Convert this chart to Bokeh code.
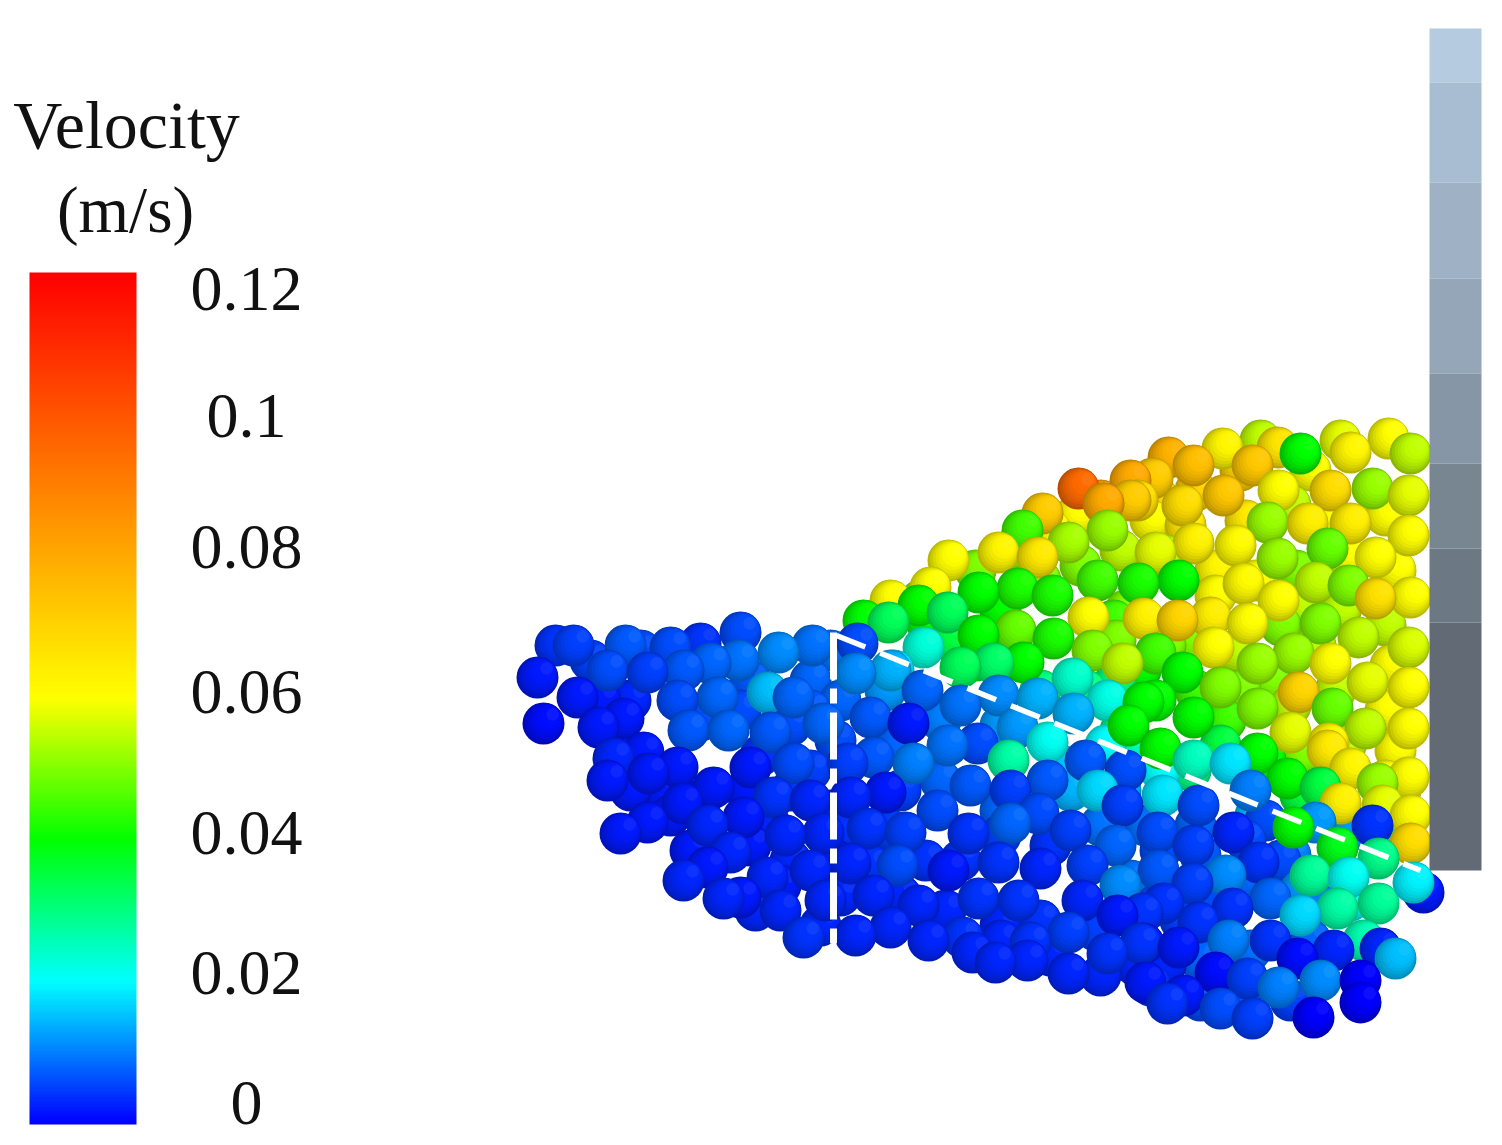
import numpy as np
from bokeh.plotting import figure
from bokeh.models import ColumnDataSource, ColorBar, LinearColorMapper, FixedTicker, Range1d
from bokeh.embed import file_html
from bokeh.resources import INLINE

# ---------- colour scale ----------
scale_values = [0.0, 0.02, 0.04, 0.06, 0.12]
scale_colors = [(0, 0, 255), (0, 255, 255), (0, 255, 0), (255, 255, 0), (255, 0, 0)]
tick_values = [0.12, 0.1, 0.08, 0.06, 0.04, 0.02, 0]
tick_labels = ["0.12", "0.1", "0.08", "0.06", "0.04", "0.02", "0"]

# ---------- particles (x, y in picture pixels, v = velocity in m/s) ----------
rear_x = [1113,1310,1240,1195,1160,1100,1075,1050,1010,975,920,1150,1185,1245,1290,1385,1330,1120,1080,1040,1000,1215,1255,1295,1345,1395,1165,1125,1215,1300,1340,1385,1115,1165,1280,1190,1235,1315,1390,1270,1335,1385,1195,1240,1115,1140,1290,1225,1345,1395,1265,1300,1385,1120,1085,1040,1010,975,925,950,1220,1190,1135,1105,1160,1300,1255,1290,1375,1400,1350,
          830,885,840,895,835,940,1000,1060,1120,1070,1000,940,890,845,900,1050,1000,960,925,870,840,900,945,1000,1040,1095,1130,1155,1180,1215,1240,1200,1160,1100,1145,1195,1245,1265,1300,1280,1320,1350,1310,1290,1200,1240,1250,1100,1135,1165,1050,1000,1200,1150,
          590,640,690,750,740,700,630,600,810,810,790,760,790,745,700,810,770,830,750,790,835,755,780,820,690,670,660,630,615]
rear_y = [620,470,470,490,500,500,515,530,550,570,600,520,525,520,505,515,520,550,565,580,610,570,580,570,555,570,555,610,595,605,610,625,640,645,625,640,650,645,665,680,690,710,690,690,680,670,705,720,745,750,760,755,780,730,690,690,650,660,620,640,745,770,745,745,770,795,815,855,830,790,830,
          650,690,700,745,740,720,725,765,790,790,810,780,830,830,790,845,835,860,860,865,895,895,910,925,920,930,880,905,920,905,880,855,850,825,825,825,840,820,890,860,905,900,940,1000,960,1000,950,975,965,965,955,940,1000,985,
          660,650,650,680,710,720,700,700,680,710,725,755,790,790,800,770,825,810,845,860,860,910,885,925,850,815,790,790,740]
rear_v = [.045,.060,.070,.070,.070,.080,.060,.060,.050,.050,.050,.060,.065,.065,.055,.060,.060,.055,.050,.050,.040,.062,.060,.050,.060,.060,.055,.050,.060,.055,.055,.055,.050,.050,.050,.050,.055,.055,.060,.050,.055,.060,.045,.050,.030,.040,.055,.045,.055,.060,.040,.050,.060,.030,.030,.030,.040,.040,.040,.035,.035,.030,.025,.020,.020,.035,.015,.010,.030,.060,.012,
          .009,.012,.008,.008,.006,.010,.012,.015,.014,.014,.008,.008,.005,.004,.005,.004,.005,.004,.004,.004,.003,.003,.003,.003,.004,.005,.009,.006,.005,.006,.008,.007,.006,.009,.009,.008,.006,.006,.012,.006,.010,.020,.008,.005,.008,.006,.009,.003,.003,.003,.003,.003,.006,.004,
          .005,.006,.007,.007,.006,.006,.003,.002,.008,.007,.006,.004,.004,.002,.002,.005,.003,.003,.002,.003,.002,.003,.002,.003,.002,.002,.002,.002,.002]

top_x = [1260,1340,1222,1168,1277,1193,1252,1350,1388,1410,1152,1278,1330,1372,1408,1182,1223,1137,1267,1307,1350,1408,1155,1193,1235,1277,1327,1375,1243,1315,1278,1348,1375,1410,1143,1177,1210,1247,1320,1293,1358,1408,1155,1213,1330,1257,1182,1220,1298,1367,1408,1155,1193,1257,1332,1365,1408,1290,1328,1300,1178,1138]
top_y = [440,440,448,457,447,465,465,452,438,453,478,490,490,488,495,505,495,500,522,523,523,535,552,543,545,558,548,557,583,582,600,585,598,597,618,620,617,623,623,653,637,647,653,647,663,663,672,687,692,682,687,700,717,708,708,728,728,732,743,453,580,583]
top_v = [.055,.058,.062,.078,.066,.075,.073,.062,.060,.055,.072,.060,.068,.052,.058,.068,.073,.068,.052,.064,.064,.060,.058,.063,.061,.052,.048,.060,.061,.055,.060,.050,.067,.060,.063,.070,.064,.060,.050,.052,.055,.057,.045,.060,.060,.052,.040,.050,.070,.058,.060,.040,.040,.050,.048,.055,.060,.058,.062,.040,.040,.042]

upper_x = [890,930,863,888,918,947,948,998,1037,978,1017,1052,1022,1042,1068,1078,1107,1103,1130,1130,1097,1088,978,1015,1053,923,960,993,1023,1092,1122,1072,1107,1143,1128,893]
upper_y = [600,587,620,622,605,612,560,552,557,592,588,595,530,513,542,488,530,503,500,480,580,617,635,630,638,647,667,663,662,650,663,678,700,702,725,670]
upper_v = [.060,.060,.040,.033,.040,.033,.060,.062,.065,.040,.042,.042,.045,.072,.053,.095,.052,.080,.072,.080,.045,.060,.040,.048,.042,.023,.033,.032,.040,.050,.055,.024,.022,.040,.040,.018]

right_x = [1162,1193,1230,1198,1250,1157,1233,1193,1258,1158,1225,1270,1192,1232,1163,1198,1142,1270,1178,1228,1297,1215,1143,1145,1247,1183,1167,1278,1320,1220,1252,1313,1360,1360,1395,1380,1333,1363,1378,1337,1300,1310,1378,1337,1293,1348,1372,1287,1340,1382,1410,1410,1408,1350,1327,1377,1257,1160,1320,1315]
right_y = [795,760,763,805,790,832,832,845,862,870,875,898,883,908,903,922,913,940,947,940,958,972,943,982,978,995,1003,987,980,1008,1018,1017,1002,980,958,948,950,940,903,908,915,875,858,847,827,877,825,778,803,805,843,815,777,768,750,783,753,748,787,822]
right_v = [.018,.025,.018,.006,.010,.006,.003,.005,.004,.007,.011,.008,.005,.004,.004,.004,.004,.004,.002,.010,.001,.001,.002,.002,.005,.002,.004,.010,.011,.006,.005,.000,.000,.000,.015,.003,.003,.026,.028,.027,.017,.028,.029,.038,.040,.021,.004,.040,.063,.058,.068,.060,.060,.062,.065,.052,.040,.040,.035,.012]

middle_x = [857,855,890,870,922,960,998,1037,1073,908,947,977,873,913,1008,1017,1047,1085,1125,1047,1097,1122,970,1010,885,847,850,937,867,905,968,1010,1038,1070,1115,850,897,948,998,1040,1087,1120,873,918,978,1018,1082,1117,855,890,928,962,995,1030,1068,1068,1107,1140,972,1027]
middle_y = [643,673,670,717,690,705,695,698,713,723,745,743,757,763,760,727,742,760,770,780,790,805,785,790,792,763,797,810,828,832,833,823,813,830,845,863,865,870,862,868,865,885,895,905,898,900,900,915,935,927,940,937,962,942,973,932,953,943,952,960]
middle_v = [.006,.011,.014,.007,.008,.009,.011,.014,.014,.002,.009,.006,.007,.010,.027,.012,.021,.007,.006,.007,.017,.005,.007,.005,.002,.005,.003,.006,.004,.005,.004,.008,.006,.005,.008,.003,.006,.002,.004,.003,.005,.011,.003,.003,.004,.004,.003,.002,.003,.003,.003,.004,.003,.004,.003,.005,.004,.004,.003,.003]

left_x = [555,573,625,670,700,740,537,607,647,683,710,738,778,812,717,767,577,543,598,623,677,688,728,770,793,823,613,643,607,648,677,750,793,713,682,773,810,743,647,620,707,785,823,730,707,683,767,810,723,740,780,803,825]
left_y = [645,645,645,647,643,632,677,670,672,670,663,660,652,645,697,692,697,723,727,718,700,730,730,732,697,723,758,752,780,773,767,767,763,787,803,797,800,817,822,833,825,835,833,852,867,880,877,870,898,897,910,937,900]
left_v = [.004,.005,.007,.006,.004,.006,.002,.006,.005,.007,.008,.009,.011,.009,.008,.015,.002,.001,.002,.002,.006,.007,.008,.007,.008,.008,.003,.002,.002,.002,.002,.002,.006,.002,.002,.004,.003,.002,.002,.002,.003,.003,.003,.003,.002,.003,.003,.003,.003,.002,.003,.004,.003]

front_x = [1423,1413]
front_y = [892,882]
front_v = [.002,.019]

# ---------- other picture content ----------
wall_top = [28,82,182,278,373,463,548,622]
wall_bottom = [82,182,278,373,463,548,622,870]
wall_colors = ["#b4cbe0","#a8bdd1","#9fb2c5","#94a6b8","#8696a6","#788692","#6c7883","#626b75"]
vertical_x = [833, 833]
vertical_y = [632, 948]
slant_x = [836, 1420]
slant_y = [635, 870]
title_lines = ["Velocity", "(m/s)"]

R = 21.0
layers = [(1.00,.72,0),(.93,.79,0),(.85,.85,0),(.76,.90,0),(.67,.94,0),(.57,.98,0),(.45,1.0,.0),(.30,1.0,.06)]


def rgb_of(v):
    return [np.interp(v, scale_values, [c[i] for c in scale_colors]) for i in range(3)]


def shaded(v, shade, white):
    out = []
    for c in rgb_of(v):
        c = c * shade
        c = c + (255 - c) * white
        out.append(int(round(c)))
    return "#%02x%02x%02x" % tuple(out)


def ball_source(xs, ys, vs, sort=True):
    xs, ys, vs = map(np.asarray, (xs, ys, vs))
    order = np.argsort(ys, kind="stable") if sort else np.arange(len(xs))
    d = dict(x=[], y=[], r=[], c=[])
    for i in order:
        for f, s, w in layers:
            off = (1 - f) * R * 0.62
            d["x"].append(float(xs[i] + off))
            d["y"].append(float(ys[i] - off))
            d["r"].append(R * f)
            d["c"].append(shaded(float(vs[i]), s, w))
    return ColumnDataSource(d)


p = figure(width=1494, height=1137, x_range=Range1d(0, 1494), y_range=Range1d(1137, 0),
           toolbar_location=None, output_backend="svg", min_border=0, outline_line_color=None)
p.xaxis.visible = False
p.yaxis.visible = False
p.grid.visible = False

p.circle(x="x", y="y", radius="r", fill_color="c", line_color=None, source=ball_source(rear_x, rear_y, rear_v))

src = ball_source(top_x + upper_x + right_x + middle_x + left_x,
                  top_y + upper_y + right_y + middle_y + left_y,
                  top_v + upper_v + right_v + middle_v + left_v)
p.circle(x="x", y="y", radius="r", fill_color="c", line_color=None, source=src)

p.quad(left=1429, right=1481, top=wall_top, bottom=wall_bottom, fill_color=wall_colors, line_color=None)

p.circle(x="x", y="y", radius="r", fill_color="c", line_color=None,
         source=ball_source(front_x, front_y, front_v, sort=False))

p.line(vertical_x, vertical_y, line_color="white", line_width=7, line_dash=[47, 9, 15, 9])
p.line(slant_x, slant_y, line_color="white", line_width=5.5, line_dash=[31, 16])

palette = []
for k in range(256):
    palette.append(shaded(0.12 * k / 255, 1.0, 0))
mapper = LinearColorMapper(palette=palette, low=0, high=0.12)
bar = ColorBar(color_mapper=mapper, ticker=FixedTicker(ticks=[]), width=107, height=852,
               location=(29, 13), padding=0, margin=0, bar_line_color=None, major_tick_line_color=None,
               border_line_color=None, background_fill_alpha=0)
p.add_layout(bar, "center")

font = "Liberation Serif"
p.text(x=[246]*7, y=[288,415,546,691,832,972,1102], text=tick_labels, text_font=font, text_font_size="64px",
       text_color="#111111", text_align="center", text_baseline="alphabetic")
p.text(x=[126,125], y=[124,209], text=title_lines, text_font=font, text_font_size=["68px","65px"],
       text_color="#111111", text_align="center", text_baseline="alphabetic")

open("out.html", "w").write(file_html(p, INLINE))
